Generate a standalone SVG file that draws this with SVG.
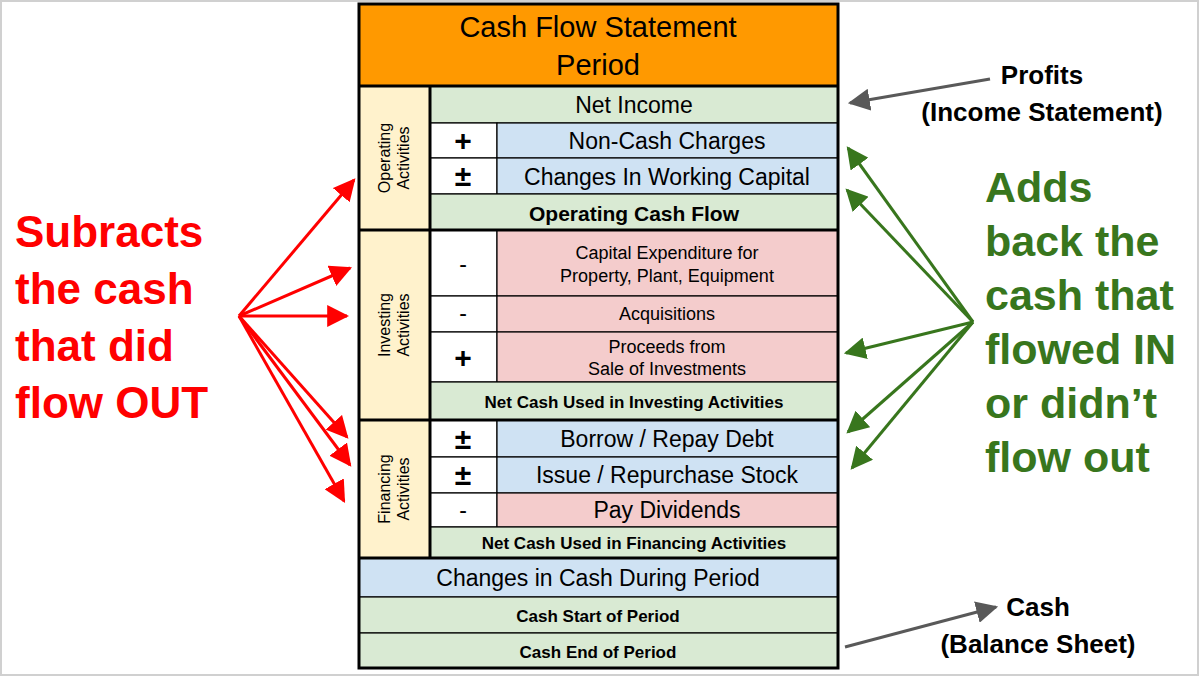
<svg xmlns="http://www.w3.org/2000/svg" width="1200" height="677" viewBox="0 0 1200 677">
<style>
text{font-family:"Liberation Sans",Arial,sans-serif;fill:#000}
.g{fill:#d9ead3}.b{fill:#cfe2f3}.r{fill:#f4cccc}.y{fill:#fff2cc}.w{fill:#fff}
.c{stroke:#000;stroke-width:1.2}
.t{font-size:23px;text-anchor:middle}
.s{font-size:18px;text-anchor:middle}
.bb{font-weight:bold}
.sec{font-size:16px;text-anchor:middle}
.sg{font-size:30px;font-weight:bold;text-anchor:middle}
.big{font-size:44px;font-weight:bold}
.ra{stroke:#f00;stroke-width:3;fill:none}
.ga{stroke:#38761d;stroke-width:3;fill:none}
.ka{stroke:#595959;stroke-width:3;fill:none}
.lab{font-size:26px;font-weight:bold;text-anchor:middle}
</style>
<defs>
<marker id="mg" viewBox="0 0 10 10" refX="9" refY="5" markerWidth="22" markerHeight="22" orient="auto" markerUnits="userSpaceOnUse"><path d="M0,0L10,5L0,10z" fill="#38761d"/></marker>
<marker id="mk" viewBox="0 0 10 10" refX="9" refY="5" markerWidth="22" markerHeight="22" orient="auto" markerUnits="userSpaceOnUse"><path d="M0,0L10,5L0,10z" fill="#595959"/></marker>
<marker id="mr2" viewBox="0 0 10 10" refX="9" refY="5" markerWidth="22" markerHeight="22" orient="auto" markerUnits="userSpaceOnUse"><path d="M0,0L10,5L0,10z" fill="#f00"/></marker>
</defs>
<rect x="0" y="0" width="1200" height="677" fill="#fff"/>
<rect x="1" y="1" width="1197" height="674" fill="none" stroke="#d0d0d0" stroke-width="2"/>

<g id="title"><rect x="359" y="4" width="479" height="82" fill="#ff9900" class="c"/>
<text class="t" x="598" y="37" style="font-size:29px">Cash Flow Statement</text>
<text class="t" x="598" y="75" style="font-size:29px">Period</text></g>

<g id="operating">
<rect x="359" y="86" width="71" height="144" class="y c"/>
<text class="sec" transform="translate(390,158) rotate(-90)">Operating</text>
<text class="sec" transform="translate(409,158) rotate(-90)">Activities</text>
<rect x="430" y="86" width="408" height="37" class="g c"/><text class="t" x="634" y="113">Net Income</text>
<rect x="430" y="123" width="67" height="35" class="w c"/><text class="sg" x="463" y="151">+</text>
<rect x="497" y="123" width="341" height="35" class="b c"/><text class="t" x="667" y="149">Non-Cash Charges</text>
<rect x="430" y="158" width="67" height="36" class="w c"/><text class="sg" x="463" y="186">±</text>
<rect x="497" y="158" width="341" height="36" class="b c"/><text class="t" x="667" y="185">Changes In Working Capital</text>
<rect x="430" y="194" width="408" height="36" class="g c"/><text class="t bb" x="634" y="221" style="font-size:21px">Operating Cash Flow</text>
</g>

<g id="investing">
<rect x="359" y="230" width="71" height="190" class="y c"/>
<text class="sec" transform="translate(390,325) rotate(-90)">Investing</text>
<text class="sec" transform="translate(409,325) rotate(-90)">Activities</text>
<rect x="430" y="230" width="67" height="66" class="w c"/><text class="t" x="463" y="272">-</text>
<rect x="497" y="230" width="341" height="66" class="r c"/>
<text class="s" x="667" y="259">Capital Expenditure for</text><text class="s" x="667" y="282">Property, Plant, Equipment</text>
<rect x="430" y="296" width="67" height="36" class="w c"/><text class="t" x="463" y="321">-</text>
<rect x="497" y="296" width="341" height="36" class="r c"/><text class="s" x="667" y="320">Acquisitions</text>
<rect x="430" y="332" width="67" height="50" class="w c"/><text class="sg" x="463" y="368">+</text>
<rect x="497" y="332" width="341" height="50" class="r c"/>
<text class="s" x="667" y="353">Proceeds from</text><text class="s" x="667" y="375">Sale of Investments</text>
<rect x="430" y="382" width="408" height="38" class="g c"/><text class="s bb" x="634" y="408" style="font-size:17px">Net Cash Used in Investing Activities</text>
</g>

<g id="financing">
<rect x="359" y="420" width="71" height="138" class="y c"/>
<text class="sec" transform="translate(390,489) rotate(-90)">Financing</text>
<text class="sec" transform="translate(409,489) rotate(-90)">Activities</text>
<rect x="430" y="420" width="67" height="37" class="w c"/><text class="sg" x="463" y="449">±</text>
<rect x="497" y="420" width="341" height="37" class="b c"/><text class="t" x="667" y="447">Borrow / Repay Debt</text>
<rect x="430" y="457" width="67" height="36" class="w c"/><text class="sg" x="463" y="485">±</text>
<rect x="497" y="457" width="341" height="36" class="b c"/><text class="t" x="667" y="483">Issue / Repurchase Stock</text>
<rect x="430" y="493" width="67" height="34" class="w c"/><text class="t" x="463" y="518">-</text>
<rect x="497" y="493" width="341" height="34" class="r c"/><text class="t" x="667" y="518">Pay Dividends</text>
<rect x="430" y="527" width="408" height="31" class="g c"/><text class="s bb" x="634" y="549" style="font-size:17px">Net Cash Used in Financing Activities</text>
</g>

<g id="totals">
<rect x="359" y="558" width="479" height="39" class="b c"/><text class="t" x="598" y="586">Changes in Cash During Period</text>
<rect x="359" y="597" width="479" height="36" class="g c"/><text class="s bb" x="598" y="622" style="font-size:17px">Cash Start of Period</text>
<rect x="359" y="633" width="479" height="35" class="g c"/><text class="s bb" x="598" y="658" style="font-size:17px">Cash End of Period</text>
</g>
<rect x="359" y="4" width="479" height="664" fill="none" stroke="#000" stroke-width="3"/>
<path d="M359,86H838M359,230H838M359,420H838M359,558H838M430,86V558" stroke="#000" stroke-width="3"/>

<g id="connectors">
<path class="ra" marker-end="url(#mr2)" d="M239,316L354,180"/>
<path class="ra" marker-end="url(#mr2)" d="M239,316L350,268"/>
<path class="ra" marker-end="url(#mr2)" d="M239,316L347,316"/>
<path class="ra" marker-end="url(#mr2)" d="M239,316L347,437"/>
<path class="ra" marker-end="url(#mr2)" d="M239,316L350,465"/>
<path class="ra" marker-end="url(#mr2)" d="M239,316L344,501"/>
<path class="ga" marker-end="url(#mg)" d="M973,322L848,148"/>
<path class="ga" marker-end="url(#mg)" d="M973,322L847,190"/>
<path class="ga" marker-end="url(#mg)" d="M973,322L846,353"/>
<path class="ga" marker-end="url(#mg)" d="M973,322L848,432"/>
<path class="ga" marker-end="url(#mg)" d="M973,322L852,468"/>
<path class="ka" marker-end="url(#mk)" d="M990,79L850,103"/>
<path class="ka" marker-end="url(#mk)" d="M845,647L996,607"/>
</g>

<g id="left-label">
<text class="big" x="15" y="247" style="fill:#f00">Subracts</text>
<text class="big" x="15" y="304" style="fill:#f00">the cash</text>
<text class="big" x="15" y="361" style="fill:#f00">that did</text>
<text class="big" x="15" y="418" style="fill:#f00">flow OUT</text>
</g>
<g id="right-label">
<text class="big" x="985" y="202" style="fill:#38761d;font-size:43px">Adds</text>
<text class="big" x="985" y="256" style="fill:#38761d;font-size:43px">back the</text>
<text class="big" x="985" y="310" style="fill:#38761d;font-size:43px">cash that</text>
<text class="big" x="985" y="364" style="fill:#38761d;font-size:43px">flowed IN</text>
<text class="big" x="985" y="418" style="fill:#38761d;font-size:43px">or didn’t</text>
<text class="big" x="985" y="472" style="fill:#38761d;font-size:43px">flow out</text>
</g>
<g id="profits"><text class="lab" x="1042" y="84">Profits</text>
<text class="lab" x="1042" y="121">(Income Statement)</text></g>
<g id="cash"><text class="lab" x="1038" y="616">Cash</text>
<text class="lab" x="1038" y="653">(Balance Sheet)</text></g>
</svg>
